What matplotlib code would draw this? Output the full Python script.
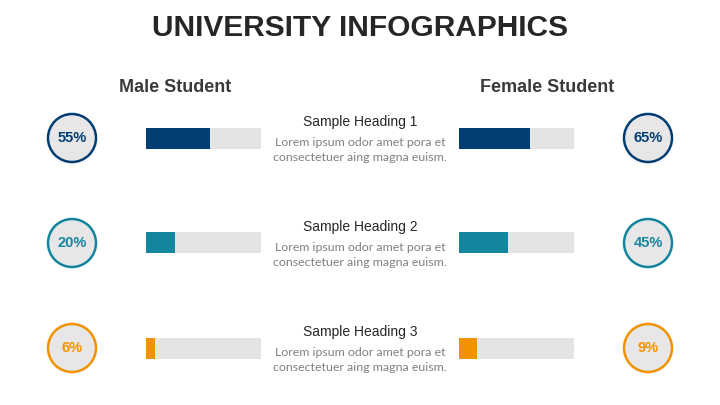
import matplotlib
matplotlib.use('Agg')
from matplotlib import pyplot as plt
from matplotlib.patches import Circle

# values shown in the circles
male_pct = [55, 20, 6]
female_pct = [65, 45, 9]
# bar lengths as drawn in the picture (percent of the track)
male_bar = [56, 25, 8]
female_bar = [62, 43, 16]
headings = ['Sample Heading 1', 'Sample Heading 2', 'Sample Heading 3']
body = 'Lorem ipsum odor amet pora et\nconsectetuer aing magna euism.'
colors = ['#023e73', '#12869f', '#f39200']

W, H = 720, 405
fig = plt.figure(figsize=(7.2, 4.05), dpi=100)
fig.patch.set_facecolor('white')

# overlay axes in pixel units for text and circles
ax = fig.add_axes([0, 0, 1, 1])
ax.set_xlim(0, W)
ax.set_ylim(H, 0)
ax.axis('off')

ax.text(360, 28, 'UNIVERSITY INFOGRAPHICS', ha='center', va='center',
        fontsize=21.5, fontweight='bold', color='#262626', family='Liberation Sans')
ax.text(175, 87, 'Male Student', ha='center', va='center',
        fontsize=13, fontweight='bold', color='#3a3a3a', family='Liberation Sans')
ax.text(547, 87, 'Female Student', ha='center', va='center',
        fontsize=13, fontweight='bold', color='#3a3a3a', family='Liberation Sans')

row_y = [138, 243, 348]
track_x = [146, 459]
track_w = 115
track_h = 21


def add_bar(x0, yc, val, color):
    # small axes holding one track, value drawn on a 0-100 scale
    b = fig.add_axes([x0 / W, 1 - (yc + track_h / 2) / H, track_w / W, track_h / H])
    b.barh([0], [100], height=1, color='#e4e4e4')
    b.barh([0], [val], height=1, color=color)
    b.set_xlim(0, 100)
    b.set_ylim(-0.5, 0.5)
    b.axis('off')


for i, y in enumerate(row_y):
    c = colors[i]
    for cx, pct in [(72, male_pct[i]), (648, female_pct[i])]:
        ax.add_patch(Circle((cx, y), 24, facecolor='#e7e7e7', edgecolor=c, lw=1.8))
        ax.text(cx, y, '%d%%' % pct, ha='center', va='center', fontsize=10.5,
                fontweight='bold', color=c, family='Liberation Sans')
    add_bar(track_x[0], y, male_bar[i], c)
    add_bar(track_x[1], y, female_bar[i], c)
    ax.text(360, y - 16, headings[i], ha='center', va='center', fontsize=10,
            color='#262626', family='Liberation Sans')
    ax.text(360, y + 12, body, ha='center', va='center', fontsize=8.9,
            color='#808080', family='Lato', linespacing=1.45)

fig.savefig('out.png', dpi=100)
